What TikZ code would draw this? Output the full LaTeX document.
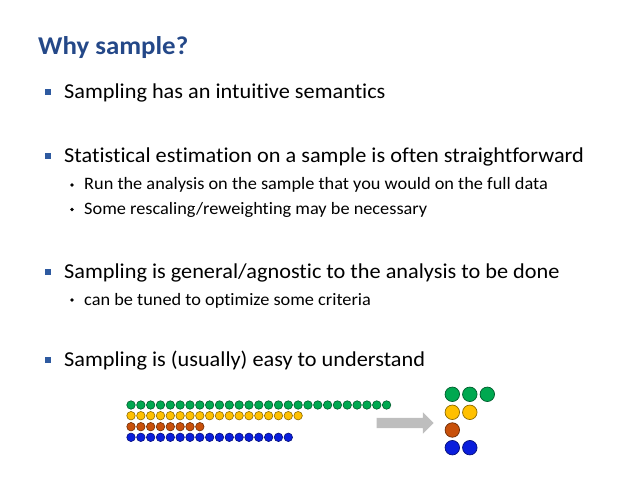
\documentclass[tikz,border=0pt]{standalone}
\usepackage{fontspec}
\setmainfont{Carlito}[FakeStretch=1.05, Ligatures=NoCommon]
\usetikzlibrary{shapes.arrows}
\definecolor{titleblue}{RGB}{36,72,136}
\definecolor{bulletblue}{RGB}{46,90,160}
\definecolor{sgreen}{RGB}{0,168,80}
\definecolor{syellow}{RGB}{255,192,0}
\definecolor{sorange}{RGB}{200,80,10}
\definecolor{sblue}{RGB}{10,30,220}
\definecolor{arrowgray}{RGB}{190,190,190}
\tikzset{
    toptext/.style={anchor=base west, inner sep=0pt, font=\fontsize{21.3}{25}\selectfont},
    subtext/.style={anchor=base west, inner sep=0pt, font=\fontsize{17.5}{21}\selectfont},
    sq/.style={fill=bulletblue, inner sep=0pt, minimum size=6bp},
    subdot/.style={circle, fill=black, inner sep=0pt, minimum size=3.6bp},
    smalldot/.style={circle, inner sep=0pt, minimum size=8.5bp, line width=0.6bp},
    bigdot/.style={circle, inner sep=0pt, minimum size=14.5bp, line width=0.7bp}
}
\begin{document}
\begin{tikzpicture}
    [x=1bp, y=-1bp]
    \useasboundingbox (0,0) rectangle (638,478);
    % title
    \node[anchor=base west, inner sep=0pt, text=titleblue,
          font=\fontsize{25.7}{30}\selectfont\bfseries] (title) at (38,55) {Why sample?};
    % bullets
    \node[sq] (b1) at (48,92) {};
    \node[toptext] (t1) at (64,98.5) {Sampling has an intuitive semantics};
    \node[sq] (b2) at (48,156) {};
    \node[toptext] (t2) at (64,162.5) {Statistical estimation on a sample is often straightforward};
    \node[subdot] (d21) at (72,185) {};
    \node[subtext] (t21) at (84,190) {Run the analysis on the sample that you would on the full data};
    \node[subdot] (d22) at (72,209.5) {};
    \node[subtext] (t22) at (84,214.5) {Some rescaling/reweighting may be necessary};
    \node[sq] (b3) at (48,272) {};
    \node[toptext] (t3) at (64,278.5) {Sampling is general/agnostic to the analysis to be done};
    \node[subdot] (d31) at (72,300) {};
    \node[subtext] (t31) at (84,305) {can be tuned to optimize some criteria};
    \node[sq] (b4) at (48,360) {};
    \node[toptext] (t4) at (64,366.5) {Sampling is (usually) easy to understand};
    % full data
    \foreach \n/\c/\y in {27/sgreen/405, 18/syellow/415.7, 8/sorange/426.7, 17/sblue/437.3}
        \foreach \i in {1,...,\n}
            \node[smalldot, fill=\c, draw=\c!55!black] (\c\i) at ({131+(\i-1)*9.83}, \y) {};
    % arrow
    \node[single arrow, fill=arrowgray, inner sep=5bp, minimum height=57bp,
          single arrow head extend=5.5bp] (arrow) at (402.5,423) {};
    % sample
    \foreach \c/\y/\k in {sgreen/394.3/3, syellow/412.3/2, sorange/430/1, sblue/447.7/2}
        \foreach \j in {1,...,\k}
            \node[bigdot, fill=\c, draw=\c!55!black] (big\c\j) at ({452.3+(\j-1)*17.5}, \y) {};
\end{tikzpicture}
\end{document}
